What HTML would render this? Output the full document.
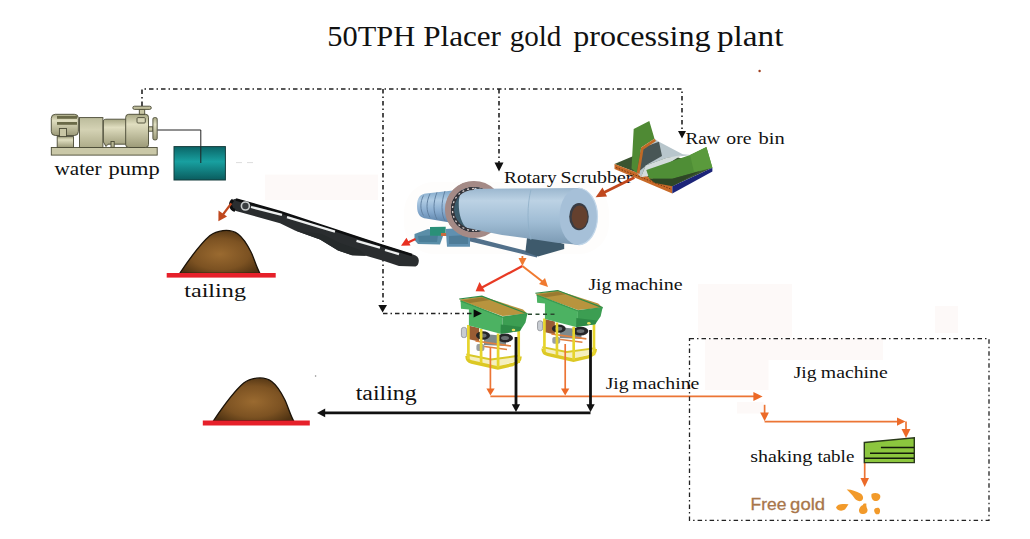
<!DOCTYPE html>
<html><head><meta charset="utf-8">
<style>
html,body{margin:0;padding:0;background:#fff;width:1030px;height:539px;overflow:hidden}
svg{display:block}
text{font-family:"Liberation Serif",serif;fill:#111;stroke:none}
</style></head>
<body>
<svg width="1030" height="539" viewBox="0 0 1030 539">
<defs>
  <linearGradient id="tank" x1="0" y1="0" x2="0" y2="1">
    <stop offset="0" stop-color="#0b6567"/><stop offset="0.45" stop-color="#18a0a0"/><stop offset="1" stop-color="#0a5c5e"/>
  </linearGradient>
  <radialGradient id="pile" cx="0.5" cy="0.55" r="0.6">
    <stop offset="0" stop-color="#9a6a30"/><stop offset="0.6" stop-color="#7c5222"/><stop offset="1" stop-color="#4e3212"/>
  </radialGradient>
  <linearGradient id="khaki2" x1="0" y1="0" x2="0" y2="1">
    <stop offset="0" stop-color="#bcbc9c"/><stop offset="0.4" stop-color="#d4d2b4"/><stop offset="1" stop-color="#aeac8a"/>
  </linearGradient>
  <linearGradient id="khaki" x1="0" y1="0" x2="0" y2="1">
    <stop offset="0" stop-color="#a8a884"/><stop offset="0.3" stop-color="#e0dec0"/><stop offset="1" stop-color="#9c9a78"/>
  </linearGradient>
  <linearGradient id="trom" x1="0" y1="0" x2="0" y2="1">
    <stop offset="0" stop-color="#7ea6c8"/><stop offset="0.3" stop-color="#b0cce4"/><stop offset="0.65" stop-color="#86aace"/><stop offset="1" stop-color="#5a82a8"/>
  </linearGradient>
  <linearGradient id="cyl" x1="0" y1="0" x2="0" y2="1">
    <stop offset="0" stop-color="#9ab6ce"/><stop offset="0.22" stop-color="#bcd2e4"/><stop offset="0.6" stop-color="#9fbcd4"/><stop offset="1" stop-color="#7a98b2"/>
  </linearGradient>
  <marker id="ahK" viewBox="0 0 10 10" refX="10" refY="5" markerWidth="9" markerHeight="9" markerUnits="userSpaceOnUse" orient="auto"><path d="M0,0L10,5L0,10z" fill="#111"/></marker>
</defs>

<!-- faint background patches -->
<g fill="#fdf9f8">
  <rect x="265" y="174.6" width="113" height="25.4"/>
  <rect x="404" y="182" width="205" height="72" rx="30" fill="#fefdfc"/>
  <rect x="698" y="284" width="94" height="53.5"/>
  <rect x="935" y="306" width="23" height="27"/>
  <rect x="705" y="338.5" width="178" height="21.5"/>
  <rect x="705" y="360" width="63.5" height="30"/>
  <rect x="737" y="402" width="26.5" height="11.5"/>
</g>

<!-- Title -->
<g font-size="28.7" style="fill:#1a1a1a"><text x="327.38" y="45.6" textLength="87.86" lengthAdjust="spacingAndGlyphs">50TPH</text><text x="423.22" y="45.6" textLength="77.75" lengthAdjust="spacingAndGlyphs">Placer</text><text x="509.69" y="45.6" textLength="51.73" lengthAdjust="spacingAndGlyphs">gold</text><text x="573.2" y="45.6" textLength="137.48" lengthAdjust="spacingAndGlyphs">processing</text><text x="716.9" y="45.6" textLength="66.64" lengthAdjust="spacingAndGlyphs">plant</text></g>

<!-- dash-dot network -->
<g stroke="#222" stroke-width="1.6" fill="none" stroke-dasharray="4.5 3 1.5 3">
  <path d="M142,106 V89 H682 V132"/>
  <path d="M383,89 V306"/>
  <path d="M499,89 V163"/>
</g>
<g fill="#111">
  <path d="M678,131 L686,131 L682,138.5 z"/>
  <path d="M494.5,162.5 L503.5,162.5 L499,171.5 z"/>
  <path d="M378.3,305 L387,305 L382.6,312.5 z"/>
</g>

<!-- water pump -->
<g stroke="#4a4a36" stroke-width="0.9">
  <rect x="51.3" y="147.5" width="105.9" height="7.6" fill="#cac8a8"/>
  <rect x="57.2" y="136.6" width="16.3" height="10.9" fill="url(#khaki)"/>
  <rect x="51.3" y="114.3" width="27.1" height="21.2" rx="4" fill="url(#khaki)"/>
  <rect x="57" y="116" width="20" height="2.8" fill="#6a6a48" stroke="none"/>
  <rect x="57" y="122" width="20" height="2.8" fill="#6a6a48" stroke="none"/>
  <rect x="59.4" y="128.5" width="7.1" height="8.1" fill="#c8c6a4"/>
  <rect x="79.5" y="117.6" width="23.4" height="29.9" fill="url(#khaki2)"/>
  <path d="M103.4,121 C103.4,119.5 105,119.2 107,119.2 L126.3,119.2 L126.3,144.2 L108,144.2 L106,146.5 L103.4,142 z" fill="url(#khaki)"/>
  <rect x="111" y="141.5" width="3.2" height="5.8" fill="#b8b694"/>
  <rect x="125.7" y="114.3" width="22.8" height="33.2" rx="3" fill="url(#khaki)"/>
  <rect x="137" y="117.6" width="8.3" height="5.4" rx="1" fill="#d6d4b6"/>
  <rect x="148.5" y="126.8" width="4.4" height="4.4" fill="#c8c6a4"/>
  <rect x="152.9" y="117.6" width="4.3" height="22.3" rx="1.5" fill="url(#khaki)"/>
  <rect x="139.3" y="109.2" width="5.4" height="5.1" fill="#c8c6a4"/>
  <rect x="132.8" y="106.2" width="18.5" height="3.2" rx="1.6" fill="#c0be9c"/>
</g>
<path d="M157.5,130 H200.8 V163" stroke="#222" stroke-width="1" fill="none"/>
<rect x="174" y="146.6" width="51.4" height="33.4" fill="url(#tank)" stroke="#143c3c" stroke-width="1"/>
<path d="M200.8,146.6 V163" stroke="#222" stroke-width="1"/>
<text x="54.5" y="174.7" font-size="19.2" textLength="46.99" lengthAdjust="spacingAndGlyphs">water</text><text x="108.6" y="174.7" font-size="19.2" textLength="51.14" lengthAdjust="spacingAndGlyphs">pump</text>

<!-- tailing pile 1 -->
<path d="M179.6,273.5 C188,261 200,244 210,235.5 C216,231 229,227.5 238,234 C244,238.5 248,246 251,252 C254,258 256,266 260,273.5 Z" fill="url(#pile)" stroke="#1a1208" stroke-width="1.3"/>
<rect x="166.7" y="273" width="109" height="4.6" fill="#e6202a"/>
<text x="184.2" y="297.4" font-size="19" textLength="61.81" lengthAdjust="spacingAndGlyphs">tailing</text>

<!-- conveyor -->
<g>
  <path d="M236,198.8 L280,211.5 L380,244.2 L413,254.5 C417,255.5 419,258 418.8,261 C418.6,264 417.5,266 415.5,266.5 L399,266 L384,261 L366,255.8 L352,255.3 L338,250.5 L320,239.6 L295,230.4 L280,223.3 L236,211 C232,209.5 230,206.5 230.3,204 C230.6,201 233,199 236,198.8 Z" fill="#2a2d2f"/>
  <path d="M236,199.5 L280,212 L380,245 L412,255" stroke="#0e0f10" stroke-width="2.6" fill="none"/>
  <path d="M233,200 C229,203 230,209 235,210.5" stroke="#0e0f10" stroke-width="3" fill="none"/>
  <path d="M251,207 L282,214.8 M287,217.2 L335,231.6 M356.5,240.8 L380,247.6 M385,250 L399,254.2" stroke="#eef0f0" stroke-width="2.3" fill="none"/>
  <circle cx="245.4" cy="206" r="4" fill="#3a3e40" stroke="#c8cccc" stroke-width="1.6"/>
  <path d="M295,230.4 L320,239.6 L338,250.5 L352,255.3 L366,255.8 L360,250 L340,243 L322,234z" fill="#262a2b"/>
</g>
<!-- brown arrow to pile 1 -->
<path d="M231.3,203.4 L223,214.5" stroke="#c0481e" stroke-width="2.2"/>
<path d="M218.4,221.2 L218.5,210.5 L227,216.5 z" fill="#c0481e"/>

<!-- rotary scrubber -->
<g>
  <!-- base frame -->
  <path d="M466,235.5 L537,253.5 L537,257.5 L466,240.5 z" fill="#52708a"/>
  <path d="M527,238 L550,240 L564.2,244 L564.2,249 L538,256.5 L525.4,252z" fill="#3e5a6c"/>
  <path d="M414.5,234 L428,229 L440,231 L443,236 L440,244.6 L418,244 L414.5,240z" fill="#5a8ea8"/>
  <path d="M418,236 L438,235 L437,242 L419,242z" fill="#4a7e98"/>
  <path d="M430,227 L445.7,226.8 L445.7,235.7 L430,235.7z" fill="#2a9078"/>
  <path d="M441,233 L447,233 L447,236 L441,236z" fill="#c86a40"/>
  <path d="M445.7,229 L466,227.5 L470,233 L470,246.8 L447,246.8z" fill="#6090b0"/>
  <path d="M449,236 L468,235 L468,244 L449,244z" fill="#4e7c98"/>
  <!-- left trommel -->
  <path d="M417,206 C417,197 421,194 426,193.5 L453,190.4 L453,223 L426,218.5 C421,218 417,215 417,206z" fill="url(#trom)"/>
  <path d="M423.5,195.5 C420,202 420,210 423.5,215.5 M430,193.8 C426,202 426,211 430,217.5 M437,192.3 C433,202 433,212 437,219.3 M445,191 C441,202 441,214 445,221" stroke="#5c7c9c" stroke-width="0.9" fill="none"/>
  <ellipse cx="474" cy="209.5" rx="26" ry="25.5" fill="#3c5c6c" stroke="#a48a86" stroke-width="6"/>
  <ellipse cx="474" cy="209.5" rx="21.5" ry="21" fill="none" stroke="#34343a" stroke-width="3"/>
  <ellipse cx="474" cy="209.5" rx="21.5" ry="21" fill="none" stroke="#d4cccc" stroke-width="1.3" stroke-dasharray="2 3"/>
  <!-- main body -->
  <path d="M463,189 L580.5,188 L580.5,245.1 L556.5,242.7 L530,238.8 L502,235 L467,228 C458,222 456,196 463,189z" fill="url(#cyl)"/>
  <path d="M531,189.5 C527,205 527,226 531,240" stroke="#8eaec8" stroke-width="0.8" fill="none"/>
  <!-- ring gear front half -->
  <path d="M474,184 C458,184 448,196 448,209.5 C448,223 458,235 474,235" stroke="#a48a86" stroke-width="5" fill="none"/>
  <path d="M474,188.5 C461,188.5 452.5,198 452.5,209.5 C452.5,221 461,230.5 474,230.5" stroke="#34343a" stroke-width="3" fill="none"/>
  <path d="M474,188.5 C461,188.5 452.5,198 452.5,209.5 C452.5,221 461,230.5 474,230.5" stroke="#d4cccc" stroke-width="1.3" stroke-dasharray="2 3" fill="none"/>
  <!-- end face -->
  <ellipse cx="578.5" cy="216.5" rx="19" ry="28.5" fill="#a6c0d8"/>
  <path d="M578.5,188 C590,189 597.5,202 597.5,216.5 C597.5,231 590,244 578.5,245" stroke="#c4d8ea" stroke-width="1.2" fill="none"/>
  <ellipse cx="579" cy="216.7" rx="9.8" ry="13.6" fill="#383c44"/>
  <ellipse cx="579.6" cy="217" rx="8" ry="11.6" fill="#64402e"/>
</g>


<!-- red arrow scrubber -> conveyor -->
<path d="M415.5,239 L408,242.5" stroke="#e83020" stroke-width="2.2"/>
<path d="M401,245.7 L406.5,237.8 L410.5,245.5z" fill="#e83020"/>

<!-- raw ore bin -->
<g>
  <path d="M614.5,164 L650,149 L712.4,167.7 L672.3,186.2 z" fill="#3a5430"/>
  <path d="M614.5,164 L672.3,186.2 L672.3,193.6 L614.5,169 z" fill="#c86a28"/>
  <path d="M616,167.5 L672,189.5" stroke="#6a3010" stroke-width="0.9" stroke-dasharray="1.5 1.5"/>
  <path d="M672.3,186.2 L712.4,167.7 L712.4,171.4 L672.3,193.6 z" fill="#1c2478"/>
  <path d="M654.5,138.7 L659,141.7 L682.7,154.3 L691.6,155 L666.4,158 L645.6,165.4 L641,177.3 L637,173 z" fill="#b8c6cc"/>
  <path d="M641,148 L659,141.7 L662,156 L648,164 L637,173 z" fill="#485656"/>
  <path d="M666,158 L682,155 L648,176 L641,177.3 L645.6,165.4z" fill="#d4dcdc"/>
  <path d="M633.7,129.1 L649.3,120.9 L654.5,138.7 L641.2,147.6 L636.7,172.9 L631.5,168.4 z" fill="#4f8a34"/>
  <path d="M641.2,147.6 L654.5,138.7 L656,141 L643.5,149.5 L639.5,174 L636.7,172.9 z" fill="#c06a26"/>
  <path d="M646.3,169.9 L690.1,155 L706.4,146.9 L712.4,167.7 L672.3,178.8 L649.3,178.8 z" fill="#4f8e36"/>
  <path d="M690.1,155 L706.4,146.9 L712.4,167.7 L694,172 z" fill="#5a9a3c"/>
  <path d="M649.3,178.8 L672.3,178.8 L700,171 L672.3,186.2 L655,183z" fill="#2e4626"/>
</g>
<text x="504.04" y="182.7" font-size="16.6" textLength="52.56" lengthAdjust="spacingAndGlyphs">Rotary</text><text x="560.6" y="182.7" font-size="16.6" textLength="71.79" lengthAdjust="spacingAndGlyphs">Scrubber</text>
<text x="685.47" y="143.7" font-size="16.8" textLength="34.87" lengthAdjust="spacingAndGlyphs">Raw</text><text x="726.33" y="143.7" font-size="16.8" textLength="25.19" lengthAdjust="spacingAndGlyphs">ore</text><text x="758.5" y="143.7" font-size="16.8" textLength="26.25" lengthAdjust="spacingAndGlyphs">bin</text>
<!-- brown arrow bin -> scrubber -->
<path d="M634.4,177.5 L604,192.5" stroke="#c0481e" stroke-width="2.6"/>
<path d="M595.6,197.3 L602.5,187.5 L607,196.5z" fill="#c0481e"/>

<!-- orange split arrows -->
<path d="M522.4,256 V262" stroke="#f07a30" stroke-width="1.8"/>
<path d="M518.5,258 L526.5,258 L522.4,266z" fill="#f07a30"/>
<path d="M522.4,266 L482,287.5" stroke="#e83a24" stroke-width="2.2"/>
<path d="M475.6,291.2 L479.5,282 L485,291.5z" fill="#e83a24"/>
<path d="M522.4,266 L543,282" stroke="#f07a30" stroke-width="2"/>
<path d="M548,287 L539,284 L545,278z" fill="#f07a30"/>

<!-- jig machine 1 -->
<g>
  <!-- brown back panel & motor -->
  <path d="M468,325.6 L479,328 L479,341.4 L468,339z" fill="#9a5c34"/>
  <rect x="461.4" y="327.4" width="5.2" height="10.2" rx="2.2" fill="#c8ccd2" stroke="#7c8086" stroke-width="0.7"/>
  <!-- mechanism -->
  <path d="M484,334 L506,336 L506,346 L484,345z" fill="#7e8a8c"/>
  <ellipse cx="483" cy="335.5" rx="7" ry="4.2" fill="#262628"/>
  <ellipse cx="505" cy="338" rx="8" ry="4.4" fill="#262628"/>
  <ellipse cx="483" cy="335.5" rx="3.5" ry="2" fill="#6a7072"/>
  <ellipse cx="505" cy="338" rx="4" ry="2" fill="#6a7072"/>
  <path d="M475.5,341 L511,346 M477,345.5 L507,349.5" stroke="#e08040" stroke-width="1.6" fill="none"/>
  <rect x="476.4" y="344" width="8" height="7" rx="2" fill="#9a9ea2"/>
  <path d="M467,355 L491,359.5 L520,356 L520,360 L498,366.5 L468,360z" fill="#e8dc70" opacity="0.45"/>
  <!-- frame -->
  <path d="M466.3,354.5 L491,359.5 L520.1,355.5" stroke="#d8c828" stroke-width="2" fill="none"/>
  <path d="M467,356 C467,359.5 469,361.5 471.5,362 L497.9,368 L512.7,364.5 C517,363 520.1,360.5 520.1,356.5" stroke="#dcc824" stroke-width="3.4" fill="none"/>
  <path d="M468.4,325 V359 M481.1,329 V363 M498.1,333.5 V367.5 M518.7,331 V363" stroke="#e6d42c" stroke-width="2.7" fill="none"/>
  <!-- hopper -->
  <path d="M459.5,299.5 L481.9,296.2 L523,309.6 L527.4,313.8 L502.4,316.1 L460.6,300.8z" fill="#b8943e"/>
  <path d="M462,300.5 L482,297.5 L490,300 L470,303z" fill="#9a7a30"/>
  <path d="M460.6,300.8 L502.4,317.1 L502.4,326 L500.5,333.8 L468.9,325.4 L468.9,309.6 L461,308.7z" fill="#4cb262"/>
  <path d="M502.4,317.1 L527.4,313.8 L525.5,322.6 L520,331 L500.5,333.8 L502.4,326z" fill="#3c9e52"/>
  <path d="M500.8,324.5 L521.5,327 L520,331 L500.5,333.8z" fill="#2e8a46"/>
  <path d="M459.2,299 L481.9,296.2 L527.4,313.8" stroke="#2e8a46" stroke-width="1.2" fill="none"/>
  <path d="M460.6,300.8 L502.4,317.1 L527.4,313.8" stroke="#3a9a50" stroke-width="1.4" fill="none"/>
  <ellipse cx="513.5" cy="330" rx="1.8" ry="1.3" fill="#e8e060"/>
  <path d="M473.6,309.2 L481.9,313.4 L473.6,317.5z" fill="#0a0a0a"/>
</g>
<!-- jig machine 2 -->
<g transform="translate(75,-5.5) translate(537,292) scale(0.985,0.97) translate(-537,-292)">
  <!-- brown back panel & motor -->
  <path d="M468,325.6 L479,328 L479,341.4 L468,339z" fill="#9a5c34"/>
  <rect x="461.4" y="327.4" width="5.2" height="10.2" rx="2.2" fill="#c8ccd2" stroke="#7c8086" stroke-width="0.7"/>
  <!-- mechanism -->
  <path d="M484,334 L506,336 L506,346 L484,345z" fill="#7e8a8c"/>
  <ellipse cx="483" cy="335.5" rx="7" ry="4.2" fill="#262628"/>
  <ellipse cx="505" cy="338" rx="8" ry="4.4" fill="#262628"/>
  <ellipse cx="483" cy="335.5" rx="3.5" ry="2" fill="#6a7072"/>
  <ellipse cx="505" cy="338" rx="4" ry="2" fill="#6a7072"/>
  <path d="M475.5,341 L511,346 M477,345.5 L507,349.5" stroke="#e08040" stroke-width="1.6" fill="none"/>
  <rect x="476.4" y="344" width="8" height="7" rx="2" fill="#9a9ea2"/>
  <path d="M467,355 L491,359.5 L520,356 L520,360 L498,366.5 L468,360z" fill="#e8dc70" opacity="0.45"/>
  <!-- frame -->
  <path d="M466.3,354.5 L491,359.5 L520.1,355.5" stroke="#d8c828" stroke-width="2" fill="none"/>
  <path d="M467,356 C467,359.5 469,361.5 471.5,362 L497.9,368 L512.7,364.5 C517,363 520.1,360.5 520.1,356.5" stroke="#dcc824" stroke-width="3.4" fill="none"/>
  <path d="M468.4,325 V359 M481.1,329 V363 M498.1,333.5 V367.5 M518.7,331 V363" stroke="#e6d42c" stroke-width="2.7" fill="none"/>
  <!-- hopper -->
  <path d="M459.5,299.5 L481.9,296.2 L523,309.6 L527.4,313.8 L502.4,316.1 L460.6,300.8z" fill="#b8943e"/>
  <path d="M462,300.5 L482,297.5 L490,300 L470,303z" fill="#9a7a30"/>
  <path d="M460.6,300.8 L502.4,317.1 L502.4,326 L500.5,333.8 L468.9,325.4 L468.9,309.6 L461,308.7z" fill="#4cb262"/>
  <path d="M502.4,317.1 L527.4,313.8 L525.5,322.6 L520,331 L500.5,333.8 L502.4,326z" fill="#3c9e52"/>
  <path d="M500.8,324.5 L521.5,327 L520,331 L500.5,333.8z" fill="#2e8a46"/>
  <path d="M459.2,299 L481.9,296.2 L527.4,313.8" stroke="#2e8a46" stroke-width="1.2" fill="none"/>
  <path d="M460.6,300.8 L502.4,317.1 L527.4,313.8" stroke="#3a9a50" stroke-width="1.4" fill="none"/>
  <ellipse cx="513.5" cy="330" rx="1.8" ry="1.3" fill="#e8e060"/>
</g>
<g stroke="#222" stroke-width="1.6" fill="none" stroke-dasharray="4.5 3 1.5 3">
  <path d="M383,313.5 H472"/>
</g>
<path d="M528,314.2 H558" stroke="#2a4a30" stroke-width="1.6" stroke-dasharray="4 3.5"/>
<text x="588.4" y="289.6" font-size="17" textLength="22.92" lengthAdjust="spacingAndGlyphs">Jig</text><text x="614.92" y="289.6" font-size="17" textLength="67.77" lengthAdjust="spacingAndGlyphs">machine</text>

<!-- tailing pile 2 -->
<path transform="translate(33.7,147.5)" d="M179.6,273.5 C188,261 200,244 210,235.5 C216,231 229,227.5 238,234 C244,238.5 248,246 251,252 C254,258 256,266 260,273.5 Z" fill="url(#pile)" stroke="#1a1208" stroke-width="1.3"/>
<rect x="202.8" y="420.5" width="107" height="5" fill="#e6202a"/>
<text x="355.7" y="400.1" font-size="20" textLength="60.93" lengthAdjust="spacingAndGlyphs">tailing</text>

<!-- orange concentrate lines -->
<g stroke="#ec7535" stroke-width="1.7" fill="none">
  <path d="M490.4,347 V389"/>
  <path d="M565.2,344 V389"/>
  <path d="M490.4,396.4 H754"/>
  <path d="M764.6,404.8 V413"/>
  <path d="M764.6,421.6 H898"/>
  <path d="M906,421.6 V429"/>
  <path d="M864.7,463 V479"/>
</g>
<g fill="#ec6a28">
  <path d="M486.4,388.4 L494.7,388.4 L490.4,395.5z"/>
  <path d="M561,388.4 L569.3,388.4 L565.2,395.5z"/>
  <path d="M753.4,392 L762.6,396.5 L753.4,401z"/>
  <path d="M760.2,412.5 L768.9,412.5 L764.6,421.3z"/>
  <path d="M897,417.5 L905.5,421.6 L897,425.7z"/>
  <path d="M901.5,429 L910.5,429 L906,437.9z"/>
  <path d="M860.5,478 L869,478 L864.7,487z"/>
</g>
<!-- black tailing lines -->
<g stroke="#111" stroke-width="2.8" fill="none">
  <path d="M516,337 V405"/>
  <path d="M590.5,330 V405"/>
  <path d="M590.5,412.8 H325"/>
</g>
<g fill="#111">
  <path d="M511.8,404.3 L520.1,404.3 L516,412 z"/>
  <path d="M586.4,404.3 L594.7,404.3 L590.5,412 z"/>
  <path d="M317,413 L325.2,408.6 L325.2,417.3 z"/>
</g>

<text x="605.7" y="388.9" font-size="17" textLength="22.92" lengthAdjust="spacingAndGlyphs">Jig</text><text x="632.34" y="388.9" font-size="17" textLength="67.05" lengthAdjust="spacingAndGlyphs">machine</text>

<!-- dashed box -->
<rect x="689.5" y="338.7" width="299.5" height="181.6" fill="none" stroke="#222" stroke-width="1.3" stroke-dasharray="4.5 3 1.5 3"/>
<text x="793.75" y="377.5" font-size="17" textLength="22.77" lengthAdjust="spacingAndGlyphs">Jig</text><text x="820.84" y="377.5" font-size="17" textLength="66.85" lengthAdjust="spacingAndGlyphs">machine</text>

<!-- shaking table -->
<path d="M864.3,442.5 L914.3,437.8 L914.3,462.6 L864.3,462.6z" fill="#8cc63e" stroke="#2a3a1a" stroke-width="1.4"/>
<path d="M880.9,447.6 H914 M870,453.2 H914 M864.3,458.2 H914" stroke="#141a0c" stroke-width="1.5"/>
<text x="750.17" y="461.6" font-size="16.2" textLength="62.18" lengthAdjust="spacingAndGlyphs">shaking</text><text x="817.4" y="461.6" font-size="16.2" textLength="36.95" lengthAdjust="spacingAndGlyphs">table</text>

<!-- free gold -->
<text x="750.58" y="510.2" font-size="17" textLength="35.82" lengthAdjust="spacingAndGlyphs" style="font-family:'Liberation Sans',sans-serif;fill:#a8764a;stroke:#a8764a;stroke-width:0.3px">Free</text><text x="790.11" y="510.2" font-size="17" textLength="34.93" lengthAdjust="spacingAndGlyphs" style="font-family:'Liberation Sans',sans-serif;fill:#a8764a;stroke:#a8764a;stroke-width:0.3px">gold</text>
<g fill="#f29a2a">
  <path d="M846.7,489.5 C850,489 856,491 860.5,493.5 C863.5,495.5 864,499 861.5,500.8 C858.5,502 855.5,500 854,497.5 C852,494.5 849,491.5 846.7,489.5z"/>
  <path d="M871.5,494 C874,492.3 878.5,492.5 880,495 C881,497.5 879.5,500.5 876.5,501 C873,501.5 870.8,498.5 871.5,494z"/>
  <path d="M836,507.5 C837,504.5 841,503.5 844.5,504 L848.5,504.3 C847.5,506 846,508 845,509.5 C842,511.5 837.5,511 836,507.5z"/>
  <path d="M859,510 C859.5,507 861.5,505.5 863,505 C863,503.8 864.5,503.3 866.5,503.8 C866,505.5 866.5,507.5 867.5,509.5 C868,512.5 865.5,514.3 862.5,514 C860,513.8 858.8,512 859,510z"/>
  <path d="M874.2,510 C874.5,508 877,507.3 879,508 C880.5,509.5 880.5,513 878.5,514.2 C876,514.8 874,513 874.2,510z"/>
</g>
<circle cx="759.6" cy="71" r="1.2" fill="#a04020"/>
<circle cx="315.6" cy="376" r="0.8" fill="#888"/>
<path d="M236,162.6 H242 M247,162.6 H253" stroke="#ddd" stroke-width="1"/>
</svg>
</body></html>
